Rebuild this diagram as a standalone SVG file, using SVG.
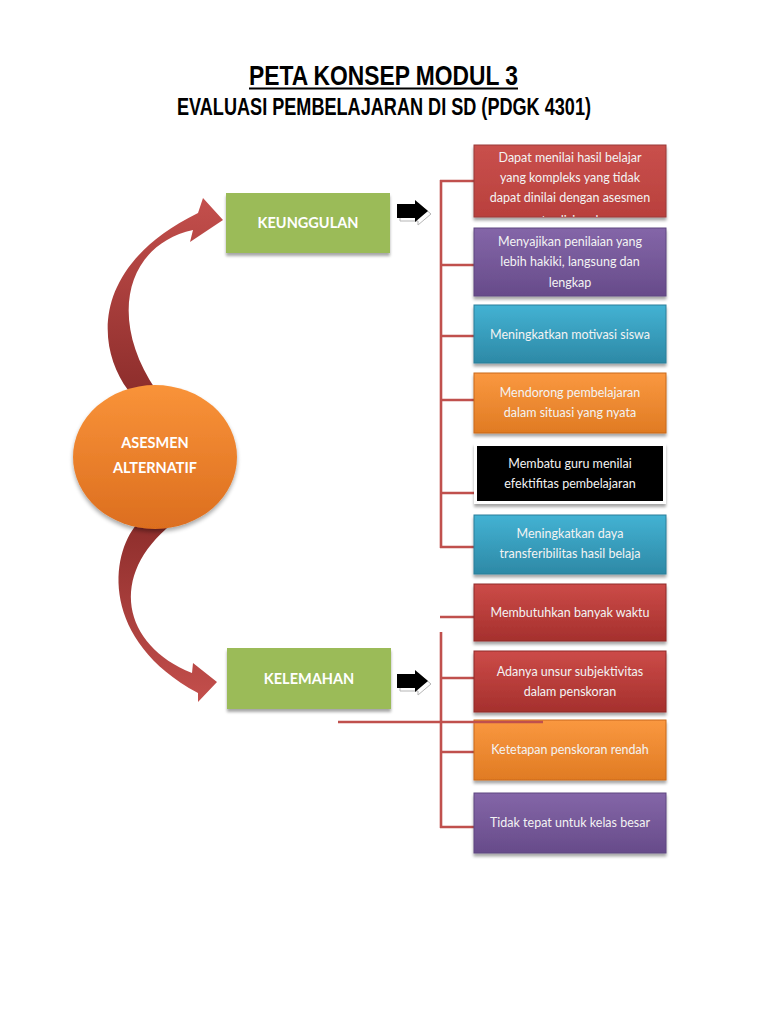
<svg xmlns="http://www.w3.org/2000/svg" width="768" height="1024" viewBox="0 0 768 1024">
<defs>
<linearGradient id="gRed" x1="0" y1="0" x2="0" y2="1"><stop offset="0" stop-color="#cc4b48"/><stop offset="1" stop-color="#a5302d"/></linearGradient>
<linearGradient id="gRed1" x1="0" y1="0" x2="0" y2="1"><stop offset="0" stop-color="#c9504c"/><stop offset="1" stop-color="#b9403d"/></linearGradient>
<linearGradient id="gPur" x1="0" y1="0" x2="0" y2="1"><stop offset="0" stop-color="#8466a8"/><stop offset="1" stop-color="#674b8a"/></linearGradient>
<linearGradient id="gTeal" x1="0" y1="0" x2="0" y2="1"><stop offset="0" stop-color="#43b2d3"/><stop offset="1" stop-color="#2d89a6"/></linearGradient>
<linearGradient id="gOr" x1="0" y1="0" x2="0" y2="1"><stop offset="0" stop-color="#fa9840"/><stop offset="1" stop-color="#e07b23"/></linearGradient>
<linearGradient id="gEll" x1="0" y1="0" x2="0" y2="1"><stop offset="0" stop-color="#f99339"/><stop offset="1" stop-color="#dc6e1f"/></linearGradient>
<linearGradient id="gArrTop" x1="0" y1="1" x2="0" y2="0"><stop offset="0" stop-color="#8e2e2c"/><stop offset="1" stop-color="#c44f4c"/></linearGradient>
<linearGradient id="gArrBot" x1="0" y1="0" x2="0" y2="1"><stop offset="0" stop-color="#8e2e2c"/><stop offset="1" stop-color="#c44f4c"/></linearGradient>
<clipPath id="clip1"><rect x="474" y="145" width="192" height="72"/></clipPath>
<filter id="sh" x="-10%" y="-10%" width="120%" height="130%"><feGaussianBlur in="SourceAlpha" stdDeviation="1.5"/><feOffset dx="0" dy="3"/><feComponentTransfer><feFuncA type="linear" slope="0.35"/></feComponentTransfer><feMerge><feMergeNode/><feMergeNode in="SourceGraphic"/></feMerge></filter>
<filter id="shE" x="-10%" y="-10%" width="120%" height="130%"><feGaussianBlur in="SourceAlpha" stdDeviation="2"/><feOffset dx="0" dy="3"/><feComponentTransfer><feFuncA type="linear" slope="0.35"/></feComponentTransfer><feMerge><feMergeNode/><feMergeNode in="SourceGraphic"/></feMerge></filter>
</defs>
<style>
.title{font-family:"Liberation Sans",Arial,sans-serif;fill:#000;font-weight:bold}
.bt{font-family:Lato,"Open Sans",sans-serif;font-size:12.5px;fill:#f3f3f3;text-anchor:middle}
.gt{font-family:Lato,"Open Sans",sans-serif;font-size:14.5px;font-weight:bold;fill:#ffffff;text-anchor:middle}
.box{stroke-width:1;filter:url(#sh)}
.green{fill:#9bbb59;filter:url(#sh)}
.conn{stroke:#c0504d;stroke-width:2.6;fill:none}
.blk{fill:#000}
.blksh{fill:#fff;stroke:#b5b5b5;stroke-width:1}
</style>
<rect width="768" height="1024" fill="#ffffff"/>

<g id="title">
<text class="title" x="249" y="85" font-size="28" textLength="269" lengthAdjust="spacingAndGlyphs">PETA KONSEP MODUL 3</text>
<line x1="249" y1="88.5" x2="518" y2="88.5" stroke="#000" stroke-width="1.8"/>
<text class="title" x="177" y="115" font-size="24" textLength="414" lengthAdjust="spacingAndGlyphs">EVALUASI PEMBELAJARAN DI SD (PDGK 4301)</text>
</g>

<g id="connectors">
<path d="M 128 390 C 95 345, 92 265, 198 213 L 203 198 L 223 220 L 190 242 L 193 230 C 125 245, 108 320, 156 390 Z" fill="url(#gArrTop)"/>
<path d="M 137 524 C 110 555, 100 640, 198 693 L 198 702 L 217 682 L 193 663 L 192 673 C 122 645, 108 575, 172 524 Z" fill="url(#gArrBot)"/>
<polygon class="blksh" points="400,207 418,207 418,203 431,214 418,225 418,221 400,221"/>
<polygon class="blk" points="397,204 415,204 415,200 428,211 415,222 415,218 397,218"/>
<polygon class="blksh" points="400,677 418,677 418,673 431,684 418,695 418,691 400,691"/>
<polygon class="blk" points="397,674 415,674 415,670 428,681 415,692 415,688 397,688"/>
<g class="conn">
<line x1="441" y1="180" x2="441" y2="548"/>
<line x1="440" y1="181" x2="475" y2="181"/>
<line x1="440" y1="265" x2="475" y2="265"/>
<line x1="440" y1="336" x2="475" y2="336"/>
<line x1="440" y1="400" x2="475" y2="400"/>
<line x1="440" y1="493" x2="475" y2="493"/>
<line x1="440" y1="547" x2="475" y2="547"/>
<line x1="440" y1="617" x2="475" y2="617"/>
<line x1="441" y1="632" x2="441" y2="828"/>
<line x1="440" y1="678" x2="475" y2="678"/>
<line x1="440" y1="752" x2="475" y2="752"/>
<line x1="440" y1="827" x2="475" y2="827"/>
</g>
</g>

<g id="asesmen">
<ellipse cx="155" cy="457" rx="82" ry="72" fill="url(#gEll)" filter="url(#shE)"/>
<text class="gt" x="155" y="448">ASESMEN</text>
<text class="gt" x="155" y="473">ALTERNATIF</text>
</g>

<g id="keunggulan">
<rect class="green" x="226" y="193" width="164" height="60"/>
<text class="gt" x="308" y="228">KEUNGGULAN</text>
</g>
<g id="kelemahan">
<rect class="green" x="227" y="648" width="164" height="61"/>
<text class="gt" x="309" y="684">KELEMAHAN</text>
</g>

<g id="k1">
<rect class="box" x="474" y="145" width="192" height="72" fill="url(#gRed1)" stroke="#9a3a38"/>
<text class="bt" x="570" y="162">Dapat menilai hasil belajar</text>
<text class="bt" x="570" y="182">yang kompleks yang tidak</text>
<text class="bt" x="570" y="202">dapat dinilai dengan asesmen</text>
<text class="bt" x="570" y="225" clip-path="url(#clip1)">tradisional</text>
</g>
<g id="k2">
<rect class="box" x="474" y="228" width="192" height="68" fill="url(#gPur)" stroke="#5e4680"/>
<text class="bt" x="570" y="246">Menyajikan penilaian yang</text>
<text class="bt" x="570" y="266">lebih hakiki, langsung dan</text>
<text class="bt" x="570" y="287">lengkap</text>
</g>
<g id="k3">
<rect class="box" x="474" y="305" width="192" height="58" fill="url(#gTeal)" stroke="#2a7f99"/>
<text class="bt" x="570" y="339">Meningkatkan motivasi siswa</text>
</g>
<g id="k4">
<rect class="box" x="474" y="373" width="192" height="60" fill="url(#gOr)" stroke="#c9691c"/>
<text class="bt" x="570" y="397">Mendorong pembelajaran</text>
<text class="bt" x="570" y="417">dalam situasi yang nyata</text>
</g>
<g id="k5">
<rect x="474" y="443" width="192" height="61" fill="#ffffff" filter="url(#sh)"/>
<rect x="477" y="446" width="186" height="55" fill="#000000"/>
<text class="bt" x="570" y="468">Membatu guru menilai</text>
<text class="bt" x="570" y="488">efektifitas pembelajaran</text>
</g>
<g id="k6">
<rect class="box" x="474" y="515" width="192" height="59" fill="url(#gTeal)" stroke="#2a7f99"/>
<text class="bt" x="570" y="538">Meningkatkan daya</text>
<text class="bt" x="570" y="558">transferibilitas hasil belaja</text>
</g>
<g id="l1">
<rect class="box" x="474" y="584" width="192" height="57" fill="url(#gRed)" stroke="#8f2a28"/>
<text class="bt" x="570" y="617">Membutuhkan banyak waktu</text>
</g>
<g id="l2">
<rect class="box" x="474" y="651" width="192" height="61" fill="url(#gRed)" stroke="#8f2a28"/>
<text class="bt" x="570" y="676">Adanya unsur subjektivitas</text>
<text class="bt" x="570" y="696">dalam penskoran</text>
</g>
<g id="l3">
<rect class="box" x="474" y="720" width="192" height="60" fill="url(#gOr)" stroke="#c9691c"/>
<text class="bt" x="570" y="754">Ketetapan penskoran rendah</text>
</g>
<g id="l4">
<rect class="box" x="474" y="793" width="192" height="60" fill="url(#gPur)" stroke="#5e4680"/>
<text class="bt" x="570" y="827">Tidak tepat untuk kelas besar</text>
</g>
<g id="overline">
<line class="conn" x1="338" y1="722" x2="543" y2="722"/>
</g>
</svg>
